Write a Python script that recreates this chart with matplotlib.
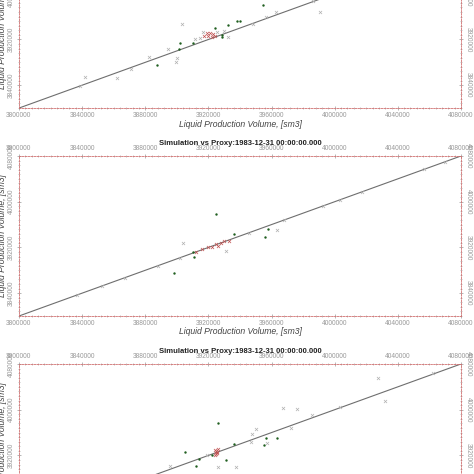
import matplotlib
matplotlib.use("Agg")
import matplotlib.pyplot as plt
from matplotlib.ticker import MultipleLocator, FixedLocator

plt.rcParams['font.family'] = ['Liberation Sans', 'DejaVu Sans']

title = "Simulation vs Proxy:1983-12-31 00:00:00.000"
axis_label = "Liquid Production Volume, [sm3]"
lim = (3800000, 4080000)
xticks = [3800000, 3840000, 3880000, 3920000, 3960000, 4000000, 4040000, 4080000]
yticks = [3840000, 3920000, 4000000, 4080000]

# ---- top panel ----
top_green_x = [3954770, 3932600, 3938300, 3940000, 3924400, 3928600, 3928400, 3902000, 3901400, 3887600, 3910400]
top_green_y = [3979700, 3944700, 3952250, 3952800, 3940000, 3928300, 3923700, 3914300, 3903250, 3874700, 3913200]
top_gray_x = [3903000, 3962600, 3990700, 3986400, 3956300, 3948400, 3932600, 3929900, 3916400, 3914700, 3911500,
              3894200, 3899900, 3899300, 3882600, 3871000, 3861900, 3842000, 3838600, 3925600]
top_gray_y = [3946500, 3968500, 3968500, 3987250, 3959250, 3947000, 3924800, 3935300, 3932500, 3922000, 3920200,
              3902700, 3887000, 3881000, 3888700, 3868800, 3853000, 3854250, 3839000, 3933500]
top_red_x = [3918900, 3921000, 3919700, 3922300, 3917200, 3923100, 3924200]
top_red_y = [3931250, 3930700, 3926000, 3924250, 3926500, 3929000, 3926000]

# ---- middle panel ----
mid_green_x = [3924800, 3936400, 3957500, 3956000, 3911100, 3910000, 3898000]
mid_green_y = [3979000, 3944000, 3952250, 3938800, 3902700, 3912600, 3874700]
mid_gray_x = [3903700, 3931100, 3963400, 4056600, 4017100, 3992400, 4003400, 3968100, 3945900, 3902000,
              3888300, 3867200, 3852400, 3837000, 4070000]
mid_gray_y = [3927200, 3913200, 3951000, 4056600, 4017100, 3992400, 4003400, 3968100, 3945900, 3902000,
              3888300, 3867200, 3852400, 3837000, 4070000]
mid_red_x = [3912000, 3916000, 3920000, 3922000, 3925000, 3928000, 3930000, 3933000, 3926000]
mid_red_y = [3912500, 3916500, 3921000, 3921500, 3925500, 3928000, 3930500, 3932000, 3923000]

# ---- bottom panel ----
bot_green_x = [3963200, 3956300, 3955400, 3936400, 3925900, 3905200, 3912100, 3922300, 3931100, 3914000]
bot_green_y = [3950500, 3951000, 3937700, 3940000, 3977000, 3925500, 3901500, 3921600, 3912000, 3913300]
bot_gray_x = [4027200, 4031900, 4062500, 4003400, 3967400, 3975900, 3985400, 3972100, 3950000, 3947800,
              3946800, 3956900, 3926100, 3937500, 3895700, 3918900]
bot_gray_y = [4055000, 4015800, 4064800, 4005300, 4002400, 4001250, 3990750, 3967500, 3966800, 3957000,
              3943500, 3941000, 3899300, 3900400, 3901500, 3920000]
bot_red_x = [3924500, 3925000, 3925500, 3924000, 3926000, 3925200, 3924800]
bot_red_y = [3920000, 3923000, 3926000, 3929000, 3931500, 3924500, 3927500]

panels = [
    (0.772, (top_green_x, top_green_y), (top_gray_x, top_gray_y), (top_red_x, top_red_y), False),
    (0.3333, (mid_green_x, mid_green_y), (mid_gray_x, mid_gray_y), (mid_red_x, mid_red_y), True),
    (-0.1055, (bot_green_x, bot_green_y), (bot_gray_x, bot_gray_y), (bot_red_x, bot_red_y), True),
]

fig = plt.figure(figsize=(4.74, 4.74), dpi=100)
left, width, height = 0.040, 0.9325, 0.3376
tick_color = '#999999'
for bottom, green, gray, red, show_title in panels:
    ax = fig.add_axes([left, bottom, width, height])
    ax.set_xlim(*lim)
    ax.set_ylim(*lim)
    ax.plot(lim, lim, color='#6e6e6e', lw=0.8, zorder=1)
    ax.scatter(gray[0], gray[1], marker='x', s=5, color='#b0b0b0', linewidths=0.5, zorder=2)
    ax.scatter(red[0], red[1], marker='x', s=5, color='#c05050', linewidths=0.5, zorder=3)
    ax.scatter(green[0], green[1], marker='o', s=3, color='#1f5f1f', linewidths=0, zorder=4)
    ax.xaxis.set_major_locator(FixedLocator(xticks))
    ax.yaxis.set_major_locator(FixedLocator(yticks))
    ax.xaxis.set_minor_locator(MultipleLocator(4000))
    ax.yaxis.set_minor_locator(MultipleLocator(8000))
    ax.set_xticklabels([str(t) for t in xticks])
    ax.set_yticklabels([str(t) for t in yticks])
    ax.tick_params(which='both', top=True, right=True, labeltop=True, labelright=True,
                   direction='inout', color=tick_color, labelsize=4.8, labelcolor='#999999', pad=1.2)
    ax.tick_params(which='major', length=3, width=0.5)
    ax.tick_params(which='minor', length=2, width=0.4)
    for t in ax.yaxis.get_major_ticks():
        t.label2.set_rotation(270)
        t.label2.set_va('center')
        t.label1.set_rotation(90)
        t.label1.set_va('center')
    for sp in ax.spines.values():
        sp.set_color('#d07070')
        sp.set_linestyle((0, (2, 1.5)))
        sp.set_linewidth(0.6)
    ax.set_xlabel(axis_label, fontsize=6.2, style='italic', color='#444444', labelpad=0.5)
    ax.set_ylabel(axis_label, fontsize=6.2, style='italic', color='#444444', labelpad=1.0)
    if show_title:
        ax.text(0.5, 1.08, title, transform=ax.transAxes, ha='center', va='center',
                fontsize=5.5, fontweight='bold', color='#222222')

fig.savefig('out.png', dpi=100)
